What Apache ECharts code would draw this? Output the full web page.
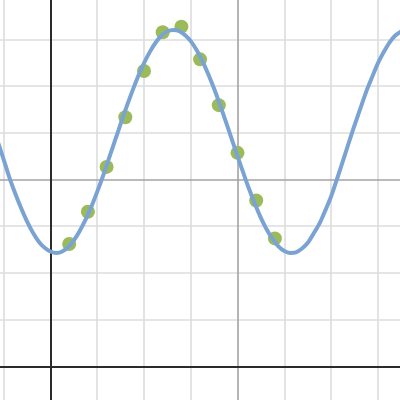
<!DOCTYPE html>
<html>
<head>
<meta charset="utf-8">
<script src="https://cdn.jsdelivr.net/npm/echarts@6/dist/echarts.min.js"></script>
<style>html,body{margin:0;padding:0;background:#fff}#c{width:400px;height:400px}</style>
</head>
<body>
<div id="c"></div>
<script>
// Data points (green dots)
const pointX = [0.4, 0.8, 1.2, 1.6, 2.0, 2.4, 2.8, 3.2, 3.6, 4.0, 4.4, 4.8];
const pointY = [2.62, 3.31, 4.27, 5.33, 6.32, 7.15, 7.27, 6.57, 5.59, 4.57, 3.55, 2.74];
// Fitted curve
const curveX = [-1.25, -1.125, -1.0, -0.875, -0.75, -0.625, -0.5, -0.375, -0.25, -0.125,
  0, 0.125, 0.25, 0.375, 0.5, 0.625, 0.75, 0.875, 1.0, 1.125, 1.25, 1.375, 1.5, 1.625, 1.75, 1.875,
  2.0, 2.125, 2.25, 2.375, 2.5, 2.625, 2.75, 2.875, 3.0, 3.125, 3.25, 3.375, 3.5, 3.625, 3.75, 3.875,
  4.0, 4.125, 4.25, 4.375, 4.5, 4.625, 4.75, 4.875, 5.0, 5.125, 5.25, 5.375, 5.5, 5.625, 5.75, 5.875,
  6.0, 6.125, 6.25, 6.375, 6.5, 6.625, 6.75, 6.875, 7.0, 7.125, 7.25, 7.375, 7.5];
const curveY = [5.17, 4.80, 4.42, 4.03, 3.69, 3.38, 3.10, 2.86, 2.67, 2.54,
  2.46, 2.43, 2.46, 2.55, 2.70, 2.90, 3.14, 3.42, 3.74, 4.08, 4.45, 4.82, 5.19, 5.55, 5.89, 6.21,
  6.49, 6.73, 6.93, 7.08, 7.17, 7.20, 7.18, 7.09, 6.96, 6.77, 6.53, 6.25, 5.94, 5.60, 5.24, 4.87,
  4.50, 4.14, 3.79, 3.47, 3.18, 2.93, 2.73, 2.57, 2.47, 2.43, 2.44, 2.52, 2.64, 2.84, 3.05, 3.33,
  3.63, 4.00, 4.38, 4.77, 5.15, 5.51, 5.87, 6.18, 6.48, 6.72, 6.93, 7.08, 7.17];
// Grid line positions
const minorX = [-1, 1, 2, 3, 5, 6, 7];
const minorY = [1, 2, 3, 5, 6, 7];
const majorX = [4];
const majorY = [4];
const axisX = [0];
const axisY = [0];

const chart = echarts.init(document.getElementById('c'), null, {renderer: 'canvas'});
const xRange = [-1.0802, 7.4759];
const yRange = [-0.7166, 7.8396];

function gridSeries(xs, ys, color, width, z) {
  return {
    type: 'line', data: [], silent: true, z: z,
    markLine: {
      silent: true, symbol: 'none', z: z, animation: false,
      label: {show: false},
      emphasis: {disabled: true},
      lineStyle: {color: color, width: width, type: 'solid'},
      data: xs.map(v => ({xAxis: v})).concat(ys.map(v => ({yAxis: v})))
    }
  };
}

chart.setOption({
  animation: false,
  backgroundColor: '#ffffff',
  grid: {left: 0, right: 0, top: 0, bottom: 0, containLabel: false},
  xAxis: {type: 'value', min: xRange[0], max: xRange[1], axisLine: {show: false}, axisTick: {show: false}, axisLabel: {show: false}, splitLine: {show: false}},
  yAxis: {type: 'value', min: yRange[0], max: yRange[1], axisLine: {show: false}, axisTick: {show: false}, axisLabel: {show: false}, splitLine: {show: false}},
  series: [
    gridSeries(minorX, minorY, '#dcdcdc', 1.6, 1),
    gridSeries(majorX, majorY, '#a3a3a3', 1.6, 2),
    gridSeries(axisX, axisY, '#2b2b2b', 2, 3),
    {
      type: 'scatter',
      data: pointX.map((x, i) => [x, pointY[i]]),
      symbolSize: 14,
      itemStyle: {color: '#9bbb59', opacity: 1},
      z: 4
    },
    {
      type: 'line',
      data: curveX.map((x, i) => [x, curveY[i]]),
      smooth: 0.3, showSymbol: false,
      lineStyle: {color: '#7aa3d3', width: 4},
      z: 5
    }
  ]
});
</script>
</body>
</html>
